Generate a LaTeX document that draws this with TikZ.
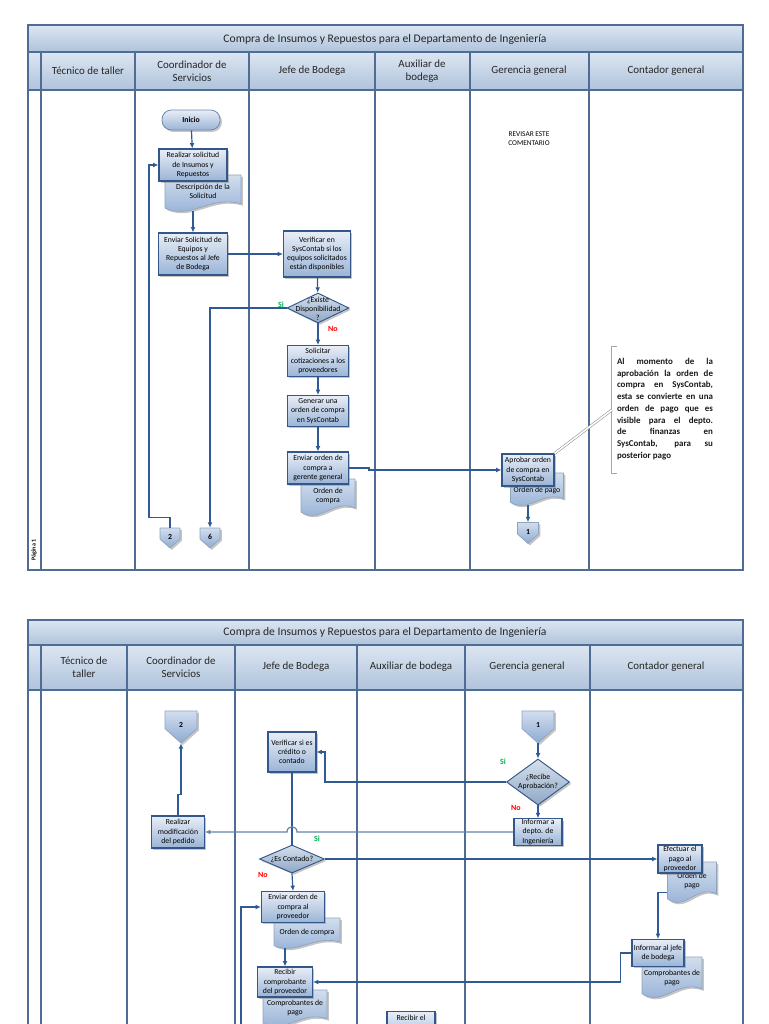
\documentclass[tikz,border=0pt]{standalone}
\usepackage{fontspec}
\setmainfont{Carlito}
\usetikzlibrary{shapes.geometric,shadows,arrows.meta}
\definecolor{laneC}{HTML}{4F6D94}
\definecolor{hdrT}{HTML}{DCE6F1}
\definecolor{hdrB}{HTML}{AFC3DC}
\definecolor{boxT}{HTML}{E8EEF7}
\definecolor{boxBot}{HTML}{9AB4D6}
\definecolor{boxD}{HTML}{34578A}
\definecolor{diaT}{HTML}{D6E0EC}
\definecolor{diaB}{HTML}{8FA7C6}
\definecolor{docT}{HTML}{D2DEEE}
\definecolor{docB}{HTML}{8EABD2}
\definecolor{docD}{HTML}{8FA3BC}
\definecolor{arr}{HTML}{2F5A93}
\definecolor{siG}{HTML}{00B050}
\definecolor{noR}{HTML}{FF0000}
\newcommand\bxf{\fontsize{5.8}{6.9}\selectfont}
\newcommand\docnode[7]{%
 \path[docsty] ({#2-#4/2},{#3-#5/2}) -- ({#2+#4/2},{#3-#5/2}) -- ({#2+#4/2},{#3+0.3*#5}) .. controls ({#2+0.1*#4},{#3+0.05*#5}) and ({#2-0.15*#4},{#3+0.75*#5}) .. ({#2-#4/2},{#3+0.42*#5}) -- cycle;
 \node[inner sep=0pt, minimum width={#4*0.75pt}, minimum height={#5*0.75pt}] (#1) at (#2,#3) {};
 \node[font=\bxf, align=center, inner sep=0pt] (#1-t) at (#2,#6) {#7};
}
\newcommand\offpage[5]{%
 \path[offsty] ({#2-#4/2},{#3-#4/2}) -- ({#2+#4/2},{#3-#4/2}) -- ({#2+#4/2},{#3+0.05*#4}) -- (#2,{#3+#4/2}) -- ({#2-#4/2},{#3+0.05*#4}) -- cycle;
 \node[inner sep=0pt, minimum size={#4*0.75pt}] (#1) at (#2,#3) {};
 \node[font=\bxf\bfseries, inner sep=0pt] (#1-t) at (#2,{#3-0.06*#4}) {#5};
}
\tikzset{
 lanel/.style={draw=laneC, line width=1pt},
 hdrfill/.style={top color=hdrT, bottom color=hdrB, draw=laneC, line width=1pt},
 hdrtxt/.style={font=\fontsize{8.2}{9.6}\selectfont, align=center, text=black!85, inner sep=0pt},
 shad/.style={drop shadow={shadow xshift=1.4pt, shadow yshift=-1.4pt, opacity=0.45}},
 proc/.style 2 args={rectangle, draw=boxD, line width=0.8pt, top color=boxT, bottom color=boxBot, shad, align=center, font=\bxf, inner sep=0.5pt, minimum width={#1*0.75pt}, minimum height={#2*0.75pt}},
 term/.style 2 args={rectangle, rounded corners=7pt, draw=boxD!70, line width=0.6pt, top color=boxT, bottom color=boxBot, shad, font=\bxf\bfseries, inner sep=0pt, minimum width={#1*0.75pt}, minimum height={#2*0.75pt}},
 dia/.style 2 args={diamond, draw=boxD, line width=0.7pt, top color=diaT, bottom color=diaB, shad, inner sep=0pt, minimum width={#1*0.75pt}, minimum height={#2*0.75pt}},
 diatxt/.style={font=\bxf, align=center, inner sep=0pt},
 docsty/.style={draw=docD, line width=0.5pt, top color=docT, bottom color=docB, shad},
 offsty/.style={draw=docD, line width=0.5pt, top color=docT, bottom color=docB, shad},
 conn/.style={draw=arr, line width=0.9pt, -{Latex[length=4pt,width=3.6pt]}},
 plainl/.style={draw=arr, line width=0.9pt},
 yes/.style={text=siG, font=\fontsize{6}{7}\selectfont\bfseries, inner sep=0pt},
 nope/.style={text=noR, font=\fontsize{6}{7}\selectfont\bfseries, inner sep=0pt},
}
\begin{document}
\begin{tikzpicture}[x=0.75pt,y=-0.75pt]
\path[use as bounding box, fill=white] (0,0) rectangle (768,1024);
\begin{scope}
\clip (0,0) rectangle (768,1024);
% ================= DIAGRAM 1 frame =================
\path[hdrfill] (28,25) rectangle (743,52);
\path[hdrfill] (28,52) rectangle (743,90);
\draw[lanel] (28,25) rectangle (743,570);
\draw[lanel] (41,52) -- (41,570);
\foreach \xx in {135,249,375,470,589} \draw[lanel] (\xx,52) -- (\xx,570);
\draw[lanel] (41,90) -- (743,90);
\node[hdrtxt, font=\fontsize{8.7}{10}\selectfont] (t1) at (385,39) {Compra de Insumos y Repuestos para el Departamento de Ingeniería};
\node[hdrtxt] (h1a) at (88,71) {Técnico de taller};
\node[hdrtxt] (h1b) at (192,71) {Coordinador de\\Servicios};
\node[hdrtxt] (h1c) at (312,71) {Jefe de Bodega};
\node[hdrtxt] (h1d) at (422,71) {Auxiliar de\\bodega};
\node[hdrtxt] (h1e) at (529,71) {Gerencia general};
\node[hdrtxt] (h1f) at (666,71) {Contador general};
\node[font=\fontsize{4.5}{5}\selectfont\bfseries, rotate=90, inner sep=0pt] (pag) at (34,550) {Página 1};
% ----- shapes diagram 1
\node[term={58}{20}] (nIni) at (191,120) {Inicio};
\docnode{dDesc}{203}{193}{76}{36}{191}{Descripción de la\\Solicitud}
\node[proc={68}{32}] (nReal) at (193,165) {Realizar solicitud\\de Insumos y\\Repuestos};
\node[proc={69}{42}] (nEnv) at (193,254) {Enviar Solicitud de\\Equipos y\\Repuestos al Jefe\\de Bodega};
\node[proc={67}{46}] (nVer) at (317,254) {Verificar en\\SysContab si los\\equipos solicitados\\están disponibles};
\node[dia={62}{30}] (dExi) at (318,308) {};
\node[diatxt] (dExiT) at (318,309) {¿Existe\\Disponibilidad\\?};
\node[proc={61}{31}] (nSol) at (318,361) {Solicitar\\cotizaciones a los\\proveedores};
\node[proc={61}{31}] (nGen) at (318,411) {Generar una\\orden de compra\\en SysContab};
\docnode{dOC}{328}{497}{54}{36}{496}{Orden de\\compra}
\node[proc={61}{32}] (nEnvO) at (318,468) {Enviar orden de\\compra a\\gerente general};
\offpage{c2}{170}{538}{20}{2}
\offpage{c6}{210}{538}{20}{6}
\node[font=\fontsize{5.5}{6.6}\selectfont, align=center, inner sep=0pt] (rev) at (529,139) {REVISAR ESTE\\COMENTARIO};
\docnode{dOP}{537}{489}{53}{32}{490}{Orden de pago}
\node[proc={52}{32}] (nApr) at (528,470) {Aprobar orden\\de compra en\\SysContab};
\offpage{c1}{528}{533}{21}{1}
\node[yes] (si1) at (281,305) {Si};
\node[nope] (no1) at (333,329) {No};
% annotation
\node[inner sep=0pt, minimum width={102*0.75pt}, minimum height={126*0.75pt}] (ann) at (663,410) {};
\draw[black!35, line width=0.8pt] ([xshift=4pt]ann.north west) -- (ann.north west) -- (ann.south west) -- ([xshift=4pt]ann.south west);
\node[font=\fontsize{6.7}{8.8}\selectfont\bfseries, align=left, inner sep=0pt, text=black!90] (annT) at (665,409) {%
\makebox[72pt][s]{Al momento de la}\\
\makebox[72pt][s]{aprobación la orden de}\\
\makebox[72pt][s]{compra en SysContab,}\\
\makebox[72pt][s]{esta se convierte en una}\\
\makebox[72pt][s]{orden de pago que es}\\
\makebox[72pt][s]{visible para el depto.}\\
\makebox[72pt][s]{de finanzas en}\\
\makebox[72pt][s]{SysContab, para su}\\
posterior pago};
\draw[black!45, line width=0.4pt, double=white, double distance=1.2pt] (nApr.north east) -- (ann.west);
% ----- connectors diagram 1
\draw[conn] (nIni) -- (nReal);
\draw[conn] (nEnv.north |- dDesc.south) -- (nEnv.north);
\draw[conn] (nEnv) -- (nVer);
\draw[conn] (nVer) -- (dExi);
\draw[conn] (dExi.west) -| (c6.north);
\draw[conn] (dExi) -- (nSol);
\draw[conn] (nSol) -- (nGen);
\draw[conn] (nGen) -- (nEnvO);
\draw[conn] (nEnvO.east) -- ++(20,0) -- ++(0,2) -- (nApr.west);
\draw[conn] (c2.north) -- ++(0,-10) -- ++(-21,0) |- (nReal.west);
\draw[conn] (c1.north |- dOP.south) -- (c1.north);
% ================= DIAGRAM 2 frame =================
\path[hdrfill] (28,620) rectangle (743,645);
\path[hdrfill] (28,645) rectangle (743,690);
\draw[lanel] (28,620) rectangle (743,1040);
\draw[lanel] (41,645) -- (41,1040);
\foreach \xx in {127,235,357,465,590} \draw[lanel] (\xx,645) -- (\xx,1040);
\draw[lanel] (41,690) -- (743,690);
\node[hdrtxt, font=\fontsize{8.7}{10}\selectfont] (t2) at (385,632) {Compra de Insumos y Repuestos para el Departamento de Ingeniería};
\node[hdrtxt] (h2a) at (84,667) {Técnico de\\taller};
\node[hdrtxt] (h2b) at (181,667) {Coordinador de\\Servicios};
\node[hdrtxt] (h2c) at (296,667) {Jefe de Bodega};
\node[hdrtxt] (h2d) at (411,667) {Auxiliar de bodega};
\node[hdrtxt] (h2e) at (527,667) {Gerencia general};
\node[hdrtxt] (h2f) at (666,667) {Contador general};
% ----- shapes diagram 2
\offpage{c2b}{181}{727}{32}{2}
\offpage{c1b}{538}{727}{32}{1}
\node[proc={53}{32}] (nMod) at (178,832) {Realizar\\modificación\\del pedido};
\node[proc={48}{40}] (nVcc) at (292,752) {Verificar si es\\crédito o\\contado};
\node[dia={63}{46}] (dRec) at (538,782) {};
\node[diatxt] (dRecT) at (538,782) {¿Recibe\\Aprobación?};
\node[proc={48}{26}] (nInf) at (538,832) {Informar a\\depto. de\\Ingeniería};
\node[dia={65}{28}] (dCon) at (292,859) {};
\node[diatxt] (dConT) at (292,859) {¿Es Contado?};
\docnode{dOP2}{692}{882}{49}{40}{881}{Orden de\\pago}
\node[proc={44}{28}] (nEfe) at (680,859) {Efectuar el\\pago al\\proveedor};
\docnode{dCP}{672}{977}{60}{40}{978}{Comprobantes de\\pago}
\node[proc={52}{27}] (nInfJ) at (658,953) {Informar al jefe\\de bodega};
\docnode{dOC2}{307}{933}{66}{30}{932}{Orden de compra}
\node[proc={63}{31}] (nEnvP) at (293,907) {Enviar orden de\\compra al\\proveedor};
\docnode{dCP2}{295}{1008}{64}{36}{1008}{Comprobantes de\\pago}
\node[proc={55}{30}] (nRecC) at (285,982) {Recibir\\comprobante\\del proveedor};
\node[proc={48}{30}, anchor=north] (nRecEl) at (411,1011) {Recibir el\\\phantom{x}\\\phantom{x}};
\node[yes] (si2) at (503,762) {Si};
\node[nope] (no2) at (516,808) {No};
\node[yes] (si3) at (317,839) {Si};
\node[nope] (no3) at (263,875) {No};
\coordinate (lp) at (241,1040);
% ----- connectors diagram 2
\draw[conn] (nMod.north) -- ++(0,-21) -| (c2b.south);
\draw[conn] (c1b.south) -- (dRec.north);
\draw[conn] (dRec.west) -- ++(-181,0) |- (nVcc.east);
\draw[conn] (dRec.south) -- (nInf.north);
\draw[plainl] (nVcc.south) -- (dCon.north);
\draw[conn, draw=arr!75] (nInf.west) -- (297,832) .. controls (297,825) and (287,825) .. (287,832) -- (nMod.east);
\draw[conn] (dCon.east) -- (nEfe.west);
\draw[conn] (dCon.south) -- (nEnvP.north);
\draw[conn] ([yshift=-8pt]dOP2.west) -| (nInfJ.north);
\draw[conn] (nInfJ.west) -- ++(-11,0) |- (nRecC.east);
\draw[conn] (nRecC.north |- dOC2.south) -- (nRecC.north);
\draw[conn] (lp) |- (nEnvP.west);
\end{scope}
\end{tikzpicture}
\end{document}
